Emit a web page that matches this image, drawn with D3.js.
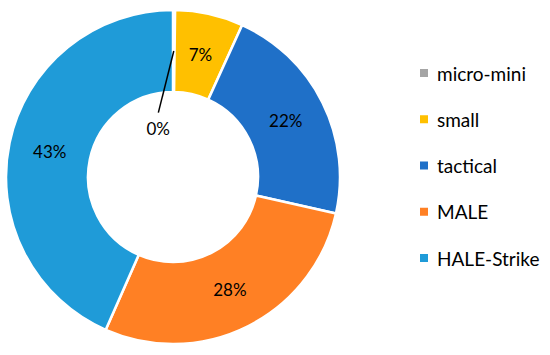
<!DOCTYPE html>
<html>
<head>
<meta charset="utf-8">
<script src="https://cdn.jsdelivr.net/npm/d3@7"></script>
<style>
  html, body { margin: 0; padding: 0; background: #fff; }
  svg { display: block; }
  text { font-family: Lato, "Open Sans", sans-serif; fill: #000; }
</style>
</head>
<body>
<svg id="chart" width="550" height="355"></svg>
<script>
const categories = ["micro-mini", "small", "tactical", "MALE", "HALE-Strike"];
const values = [0.2, 6.6, 21.7, 28.1, 43.4];
const colors = ["#A5A5A5", "#FFC000", "#1F70C8", "#FF8024", "#1F9BD8"];

const svg = d3.select("#chart");
const cx = 173, cy = 177, outerR = 167, innerR = 85;

const data = categories.map((c, i) => ({ name: c, value: values[i], color: colors[i] }));
const total = d3.sum(values);

const pie = d3.pie().sort(null).value(d => d.value);
const arcs = pie(data);
const arc = d3.arc().innerRadius(innerR).outerRadius(outerR);

const g = svg.append("g").attr("transform", `translate(${cx},${cy})`);

g.selectAll("path.slice")
  .data(arcs)
  .enter().append("path")
  .attr("class", "slice")
  .attr("d", arc)
  .attr("fill", d => d.data.color)
  .attr("stroke", "#fff")
  .attr("stroke-width", 2.5)
  .attr("stroke-linejoin", "miter");

// labels
const fmt = d => Math.round(d.data.value / total * 100) + "%";
arcs.forEach(d => {
  const c = arc.centroid(d);
  const pct = d.data.value / total;
  if (pct < 0.02) {
    // small slice: label pulled inward with a leader line
    const mid = (d.startAngle + d.endAngle) / 2;
    const lineEndAngle = mid - 0.23, lineEndR = 66;
    const labelAngle = mid - 0.30, labelR = 51;
    const ex = lineEndR * Math.sin(lineEndAngle), ey = -lineEndR * Math.cos(lineEndAngle);
    const lx = labelR * Math.sin(labelAngle), ly = -labelR * Math.cos(labelAngle);
    g.append("line")
      .attr("x1", c[0]).attr("y1", c[1])
      .attr("x2", ex).attr("y2", ey)
      .attr("stroke", "#000").attr("stroke-width", 1.5);
    g.append("text")
      .attr("x", lx).attr("y", ly)
      .attr("text-anchor", "middle")
      .attr("dominant-baseline", "central")
      .attr("font-size", 17)
      .text(fmt(d));
  } else {
    g.append("text")
      .attr("x", c[0]).attr("y", c[1])
      .attr("text-anchor", "middle")
      .attr("dominant-baseline", "central")
      .attr("font-size", 17)
      .text(fmt(d));
  }
});

// legend
const legendY = d3.scalePoint().domain(categories).range([73, 258]);
const legend = svg.append("g");
const items = legend.selectAll("g.item")
  .data(data)
  .enter().append("g")
  .attr("class", "item")
  .attr("transform", d => `translate(420,${legendY(d.name)})`);
items.append("rect")
  .attr("x", 0).attr("y", -4)
  .attr("width", 8).attr("height", 8)
  .attr("fill", d => d.color);
items.append("text")
  .attr("x", 17).attr("y", 0)
  .attr("dominant-baseline", "central")
  .attr("font-size", 19)
  .text(d => d.name);
</script>
</body>
</html>
